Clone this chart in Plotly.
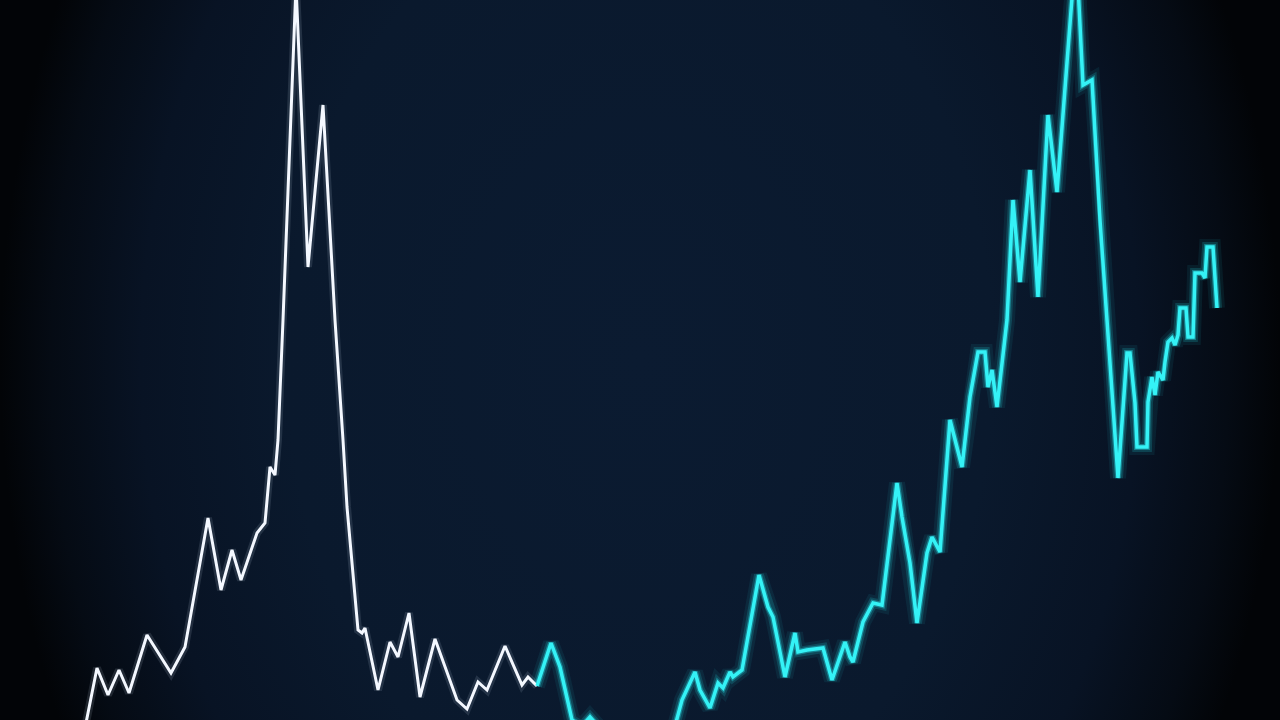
import plotly.graph_objects as go

# White (earlier) segment of the series
white_x = [86, 97, 108, 119, 129, 147, 171, 185, 208, 221, 232, 241, 257, 265, 270, 275, 278,
           283, 296, 308, 323, 335, 343, 347, 358, 362, 365, 378, 390, 398, 409, 420, 435,
           457, 467, 478, 487, 505, 522, 528, 537]
white_y = [-3, 52, 25, 50, 27, 85, 47, 73, 202, 130, 170, 140, 187, 197, 253, 245, 280,
           400, 735, 453, 615, 400, 280, 213, 90, 87, 92, 30, 78, 63, 107, 23, 81,
           20, 11, 38, 30, 74, 35, 43, 34]

# Cyan (later) segment of the series
cyan_x = [537, 551, 560, 572, 582, 590, 598, 630, 674, 682, 695, 700, 710, 718, 723, 730, 733,
          742, 759, 768, 773, 785, 795, 798, 807, 823, 832, 845, 850, 853, 863, 873, 882,
          897, 902, 910, 917, 927, 932, 940, 950, 962, 970, 978, 985, 988, 992, 997, 1007,
          1013, 1020, 1030, 1038, 1048, 1057, 1073, 1078, 1083, 1092, 1100, 1107, 1118, 1127,
          1130, 1135, 1137, 1147, 1148, 1152, 1155, 1158, 1163, 1165, 1168, 1172, 1175, 1178,
          1180, 1186, 1188, 1193, 1195, 1202, 1205, 1207, 1213, 1217]
cyan_y = [34, 77, 53, 0, -6, 3, -6, -40, -10, 20, 48, 30, 12, 37, 32, 48, 43,
          50, 145, 113, 103, 43, 87, 68, 70, 72, 40, 78, 63, 58, 98, 117, 115,
          237, 203, 157, 97, 167, 183, 168, 300, 253, 323, 368, 368, 333, 350, 313, 400,
          520, 438, 550, 423, 605, 528, 735, 735, 635, 640, 500, 400, 242, 367,
          367, 317, 273, 273, 318, 343, 325, 348, 340, 358, 378, 382, 375, 385,
          412, 412, 383, 383, 447, 447, 442, 473, 473, 412]

# Background frame (plot extent)
bg_x = [0, 1280, 1280, 0, 0]
bg_y = [-500, -500, 1220, 1220, -500]

fig = go.Figure()

fig.add_trace(go.Scatter(
    x=bg_x, y=bg_y, mode="lines", fill="toself", line=dict(width=0),
    fillgradient=dict(type="radial",
                      colorscale=[[0, "#0b1b31"], [0.55, "#0a192d"], [0.78, "#081324"],
                                  [0.92, "#050b14"], [1, "#020407"]]),
    hoverinfo="skip", showlegend=False))

# glow layers
for w, a in [(16, 0.07), (10, 0.16), (6, 0.35)]:
    fig.add_trace(go.Scatter(x=cyan_x, y=cyan_y, mode="lines",
                             line=dict(color=f"rgba(40,240,250,{a})", width=w),
                             hoverinfo="skip", showlegend=False))
fig.add_trace(go.Scatter(x=white_x, y=white_y, mode="lines",
                         line=dict(color="rgba(220,240,255,0.12)", width=8),
                         hoverinfo="skip", showlegend=False))

fig.add_trace(go.Scatter(x=white_x, y=white_y, mode="lines",
                         line=dict(color="#f4f8ff", width=3), showlegend=False))
fig.add_trace(go.Scatter(x=cyan_x, y=cyan_y, mode="lines",
                         line=dict(color="#34f2f6", width=3.5), showlegend=False))

fig.update_layout(
    width=1280, height=720, margin=dict(l=0, r=0, t=0, b=0),
    paper_bgcolor="#05090f", plot_bgcolor="#0a182b",
    xaxis=dict(range=[0, 1280], visible=False, fixedrange=True),
    yaxis=dict(range=[0, 720], visible=False, fixedrange=True),
    showlegend=False,
)

fig.write_html("out.html", config={"displayModeBar": False},
               post_script="document.body.style.margin='0';document.body.style.overflow='hidden';document.body.style.background='#05090f';")
